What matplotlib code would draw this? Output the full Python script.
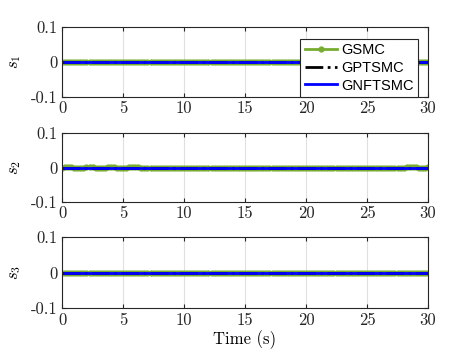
import numpy as np
import matplotlib
matplotlib.use("Agg")
import matplotlib.pyplot as plt

# sample times (s) and sliding variables
t = np.arange(0, 30.25, 0.25)
n = len(t)

gsmc_s1 = [0.0] * n
gsmc_s2 = [0.0, 0.001, 0.0015, 0.0005, -0.001, -0.0015, -0.001, 0.0, 0.001, 0.0015,
           0.0005, -0.001, -0.0015, -0.001, 0.0, 0.001, 0.0015, 0.001, -0.0005, -0.0015,
           -0.001, 0.0, 0.001, 0.0015, 0.0015, 0.0005, -0.001, -0.0015, -0.001, -0.0005,
           0.0, 0.0, 0.0, 0.0, 0.0, 0.0, 0.0, 0.0, 0.0, 0.0] + [0.0] * 71 + \
          [0.0, 0.0, 0.0005, 0.001, 0.0015, 0.001, 0.0, -0.0005, 0.0, 0.0005]
gsmc_s3 = [0.0] * n
gptsmc_s = [[0.0] * n, [0.0] * n, [0.0] * n]
gnftsmc_s = [[0.0] * n, [0.0] * n, [0.0] * n]
gsmc_s = [gsmc_s1, gsmc_s2, gsmc_s3]

ylabels = ["$s_1$", "$s_2$", "$s_3$"]
xticks = [0, 5, 10, 15, 20, 25, 30]
yticks = [-0.1, 0, 0.1]
ytick_labels = ["-0.1", "0", "0.1"]

plt.rcParams["font.family"] = "serif"
plt.rcParams["font.serif"] = ["cmr10", "DejaVu Serif"]
plt.rcParams["mathtext.fontset"] = "cm"
plt.rcParams["axes.formatter.use_mathtext"] = True

green = (0.466, 0.674, 0.188)

fig = plt.figure(figsize=(4.74, 3.55), dpi=100)
boxes = [(0.131, 0.727, 0.772, 0.197),
         (0.131, 0.431, 0.772, 0.194),
         (0.131, 0.132, 0.772, 0.200)]

for i, box in enumerate(boxes):
    ax = fig.add_axes(box)
    l1, = ax.plot(t, gsmc_s[i], color=green, lw=2, marker="o", ms=3.5, label="GSMC")
    l2, = ax.plot(t, gptsmc_s[i], color="black", lw=2, ls="-.", label="GPTSMC")
    l3, = ax.plot(t, gnftsmc_s[i], color="blue", lw=2, label="GNFTSMC")
    ax.set_xlim(0, 30)
    ax.set_ylim(-0.1, 0.1)
    ax.set_xticks(xticks)
    ax.set_xticklabels([str(x) for x in xticks])
    ax.set_yticks(yticks)
    ax.set_yticklabels(ytick_labels)
    ax.tick_params(direction="in", length=3, labelsize=12, top=True, right=True,
                   colors="#262626", pad=3)
    ax.xaxis.grid(True, color="#e0e0e0", lw=0.8)
    for sp in ax.spines.values():
        sp.set_color("#262626")
        sp.set_linewidth(0.8)
    ax.set_ylabel(ylabels[i], fontsize=12, labelpad=6)
    if i == 0:
        leg = ax.legend(handles=[l1, l2, l3], loc="lower right",
                        bbox_to_anchor=(0.973, 0.0), borderaxespad=0,
                        fancybox=False, framealpha=1, edgecolor="#262626",
                        borderpad=0.3, labelspacing=0.25, handlelength=2.2,
                        handletextpad=0.3,
                        prop={"family": "Liberation Sans", "size": 10.5})
        leg.get_frame().set_linewidth(0.8)
    if i == 2:
        ax.set_xlabel("Time (s)", fontsize=12, labelpad=2)

fig.savefig("out.png", dpi=100)
